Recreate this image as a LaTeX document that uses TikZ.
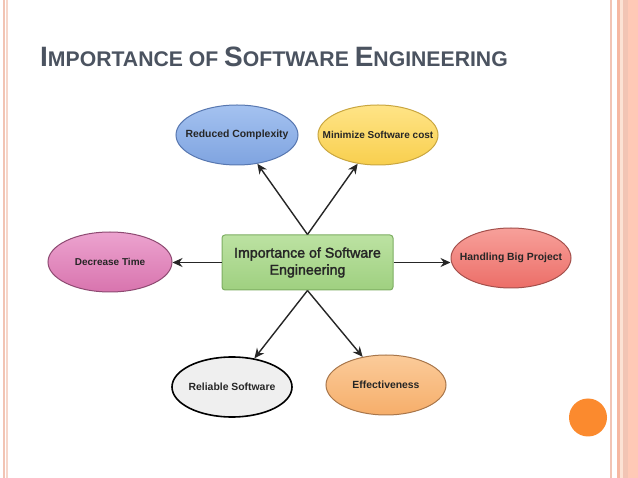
\documentclass[tikz,border=0pt]{standalone}
\usepackage{fontspec}
\setmainfont{Liberation Sans}
\newfontfamily\semib[FakeBold=2]{Liberation Sans}
\usetikzlibrary{shapes.geometric,arrows.meta}
\definecolor{titlegray}{HTML}{4B5360}
\definecolor{txt}{HTML}{262626}
\definecolor{rcT}{HTML}{A4C2F0}\definecolor{rcB}{HTML}{7FA4E0}\definecolor{rcD}{HTML}{5777B0}
\definecolor{msT}{HTML}{FFE487}\definecolor{msB}{HTML}{F8CF4E}\definecolor{msD}{HTML}{C9A640}
\definecolor{dtT}{HTML}{ECA3CF}\definecolor{dtB}{HTML}{D874AE}\definecolor{dtD}{HTML}{8E4A72}
\definecolor{hbT}{HTML}{F7A09A}\definecolor{hbB}{HTML}{EC6E68}\definecolor{hbD}{HTML}{A4504C}
\definecolor{efT}{HTML}{FBCB9A}\definecolor{efB}{HTML}{F6AE6A}\definecolor{efD}{HTML}{A8764A}
\definecolor{cT}{HTML}{BCE2A2}\definecolor{cB}{HTML}{9FD080}\definecolor{cD}{HTML}{7DAE62}
\definecolor{rsF}{HTML}{EFEFEF}
\definecolor{strA}{HTML}{F2C4B4}\definecolor{strB}{HTML}{F6B8A2}\definecolor{strC}{HTML}{FCE2D4}
\definecolor{strD}{HTML}{FFC9B6}\definecolor{orng}{HTML}{FB8A2E}
\tikzset{
  oval/.style={ellipse, draw, line width=1pt, minimum width=#1, minimum height=60pt, inner sep=0pt, font=\fontsize{10.4}{12}\selectfont\bfseries, text=txt},
  oval/.default=122pt,
  arr/.style={-{Stealth[length=10pt,width=9pt]}, line width=1.4pt, black!85},
}
\begin{document}
\begin{tikzpicture}[x=1pt,y=-1pt]
\useasboundingbox (0,0) rectangle (638,478);
\fill[white] (0,0) rectangle (638,478);
% left stripes
\fill[strA] (3,0) rectangle (4.5,478);
\fill[strA!70] (6,0) rectangle (7.5,478);
% right stripes
\fill[strA] (610,0) rectangle (611.5,478);
\fill[strB] (617,0) rectangle (619.5,478);
\fill[strC] (620,0) rectangle (623,478);
\fill[strA] (623,0) rectangle (628,478);
\fill[strD] (628,0) rectangle (638,478);
% title
\node[anchor=base west, inner sep=0pt, text=titlegray, font=\bfseries] (title) at (40,67)
 {{\fontsize{28}{28}\selectfont I}{\fontsize{21.2}{22}\selectfont MPORTANCE OF }{\fontsize{28}{28}\selectfont S}{\fontsize{21.2}{22}\selectfont OFTWARE }{\fontsize{28}{28}\selectfont E}{\fontsize{21.2}{22}\selectfont NGINEERING}};
% central box
\node[draw=cD, line width=1pt, rounded corners=3pt, top color=cT, bottom color=cB,
  minimum width=171pt, minimum height=55pt, align=center, text=txt, font=\semib\fontsize{14.2}{17}\selectfont] (c) at (307.5,262.5)
  {Importance of Software\\Engineering};
% ellipses
\node[oval, draw=rcD, top color=rcT, bottom color=rcB] (rc) at (237,135) {\makebox[0pt]{Reduced Complexity}};
\node[oval=120pt, draw=msD, top color=msT, bottom color=msB, font=\fontsize{10}{12}\selectfont\bfseries] (ms) at (378,135) {\makebox[0pt]{Minimize Software cost}};
\node[oval=124pt, draw=dtD, top color=dtT, bottom color=dtB, font=\fontsize{10}{12}\selectfont\bfseries] (dt) at (110,262) {\makebox[0pt]{Decrease Time}};
\node[oval=120pt, draw=hbD, top color=hbT, bottom color=hbB] (hb) at (511,258) {\makebox[0pt]{Handling Big Project}};
\node[oval=120pt, draw=black, line width=1.6pt, fill=rsF] (rs) at (232,387) {\makebox[0pt]{Reliable Software}};
\node[oval=120pt, draw=efD, top color=efT, bottom color=efB] (ef) at (386,385) {\makebox[0pt]{Effectiveness}};
% arrows
\draw[arr] (c.north) -- (rc);
\draw[arr] (c.north) -- (ms);
\draw[arr] (c.south) -- (rs);
\draw[arr] (c.south) -- (ef);
\draw[arr] (c.west) -- (c.west -| dt.east);
\draw[arr] (c.east) -- (c.east -| hb.west);
% decorative orange circle
\fill[orng] (588,417.5) circle (19);
\end{tikzpicture}
\end{document}
